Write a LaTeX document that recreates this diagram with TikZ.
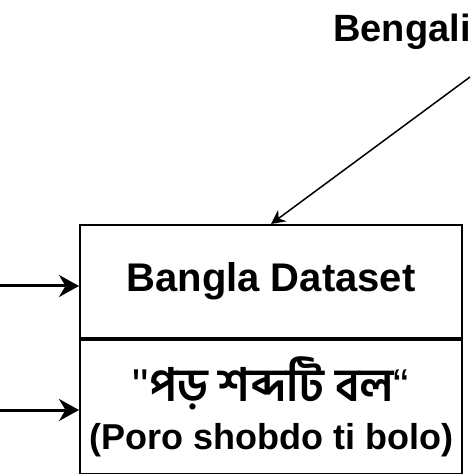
\documentclass[tikz,border=0pt]{standalone}
\usepackage{fontspec}
\setmainfont{Liberation Sans}
\newfontfamily\quotefont{Liberation Sans}
\newfontfamily\bengalifont[Script=Bengali]{Hind Siliguri}
\usetikzlibrary{arrows.meta,positioning}
\tikzset{
    databox/.style={draw,line width=1pt,minimum width=191pt,inner sep=0pt,align=center,font=\bfseries},
    feed/.style={line width=1.5pt,-{Stealth[length=10pt,width=11pt]}},
    link/.style={line width=0.75pt,-{Stealth[length=7pt,width=7pt]}}
}
\begin{document}
\begin{tikzpicture}[x=0.5pt,y=-0.5pt]
        \useasboundingbox (0,0) rectangle (474,474);
        \node[databox,minimum height=56.5pt,font=\bfseries\fontsize{20}{24}\selectfont] (data) at (271,281.5) {Bangla Dataset};
        \node[databox,minimum height=67pt,below=0pt of data,font=\bfseries\fontsize{18}{24}\selectfont] (prompt)
            {{\fontsize{23}{24}\selectfont{\quotefont\mdseries "}{\bengalifont পড় শব্দটি বল}{\quotefont\mdseries “}}\\(Poro shobdo ti bolo)};
        \node[anchor=base west,inner sep=0pt,font=\bfseries\fontsize{19}{24}\selectfont] (lang) at (333,42) {Bengali};
        \coordinate (src) at (470,77);
        \coordinate (in1) at (0,286);
        \coordinate (in2) at (0,410);
        \draw[link] (src) -- (data.north);
        \foreach \c in {in1,in2}
            \draw[feed] (\c) -- (\c -| data.west);
    \end{tikzpicture}
\end{document}
